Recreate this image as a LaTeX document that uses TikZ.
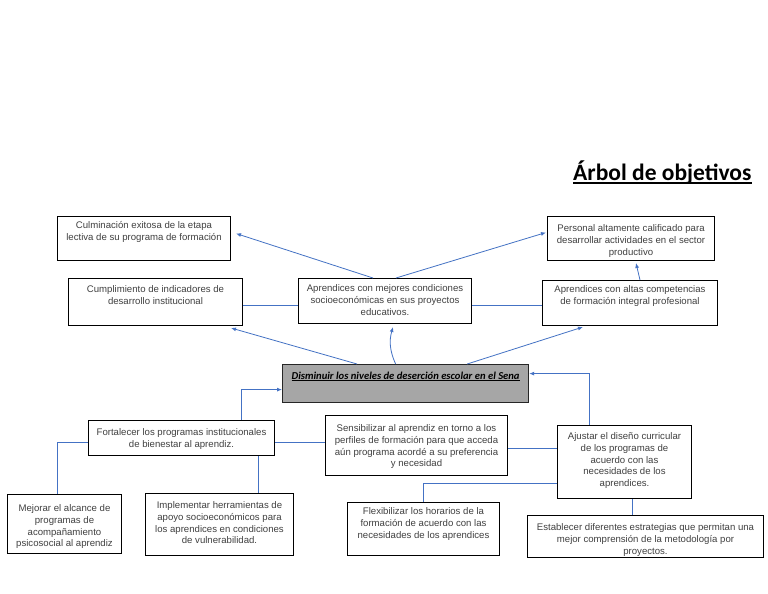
\documentclass[tikz,border=0pt]{standalone}
\usepackage{fontspec}
\setmainfont{Liberation Sans}
\newfontfamily\calibrifont{Carlito}
\usetikzlibrary{arrows.meta}
\definecolor{conn}{RGB}{68,114,196}
\definecolor{txtg}{RGB}{64,64,64}
\definecolor{cfill}{RGB}{166,166,166}
\newcommand\obx[7]{\node[obox,anchor=north west] (#1) at (#2,#3) {\parbox[c][#5pt][t]{#4pt}{\centering\vspace*{#6pt}\strut#7\par}};}
\begin{document}
\begin{tikzpicture}[x=1pt,y=-1pt,
  obox/.style={draw=black,line width=1pt,inner sep=0pt,text=txtg,font=\fontsize{9.6}{11.7}\selectfont},
  cbox/.style={draw=black!85,fill=cfill,line width=1.2pt,inner sep=0pt,text=black,font=\fontsize{10.6}{12}\selectfont},
  conline/.style={draw=conn,line width=0.8pt},
  conarrow/.style={conline,-{Latex[length=5pt,width=4pt]}},
  titlestyle/.style={anchor=base west,inner sep=0pt,font=\calibrifont\bfseries\fontsize{23.5}{28}\selectfont}]
\useasboundingbox[fill=white] (0,0) rectangle (768,594);

% title
\node[titlestyle] (title) at (573,180) {Árbol de objetivos};
\draw[line width=1.5pt] ([yshift=-3pt]title.base west) -- ([yshift=-3pt]title.base east);

% upper boxes
\obx{cul}{57}{216}{173}{44}{4}{Culminación exitosa de la etapa\\lectiva de su programa de formación}
\obx{cum}{68}{278}{174}{47}{6}{Cumplimiento de indicadores de\\desarrollo institucional}
\obx{mej}{298}{278}{173}{45}{5}{Aprendices con mejores condiciones\\socioeconómicas en sus proyectos\\educativos.}
\obx{per}{547}{216}{167}{44}{7}{Personal altamente calificado para\\desarrollar actividades en el sector\\productivo}
\obx{alt}{542}{280}{175}{45}{4}{Aprendices con altas competencias\\de formación integral profesional}

% central box
\node[cbox,anchor=north west] (cen) at (282,364) {\parbox[c][38pt][t]{246pt}{\centering\vspace*{6pt}\strut\calibrifont\bfseries\itshape\underline{Disminuir los niveles de deserción escolar en el Sena}\par}};

% lower boxes
\obx{fort}{88}{420}{186}{35}{7}{Fortalecer los programas institucionales\\de bienestar al aprendiz.}
\obx{mejo}{7}{494}{114}{59}{9}{Mejorar el alcance de\\programas de\\acompañamiento\\psicosocial al aprendiz}
\obx{impl}{145}{493}{148}{62}{7}{Implementar herramientas de\\apoyo socioeconómicos para\\los aprendices en condiciones\\de vulnerabilidad.}
\obx{sens}{325}{415}{182}{60}{8}{Sensibilizar al aprendiz en torno a los\\perfiles de formación para que acceda\\aún programa acordé a su preferencia\\y necesidad}
\obx{ajus}{557}{425}{134}{73}{6}{Ajustar el diseño curricular\\de los programas de\\acuerdo con las\\necesidades de los\\aprendices.}
\obx{flex}{347}{502}{152}{53}{4}{Flexibilizar los horarios de la\\formación de acuerdo con las\\necesidades de los aprendices}
\obx{est}{527}{515}{236}{42}{7}{Establecer diferentes estrategias que permitan una\\mejor comprensión de la metodología por\\proyectos.}

% upper connectors
\draw[conarrow] ([xshift=75pt]cen.north west) -- ([xshift=-12pt,yshift=-2pt]cum.south east);
\draw[conarrow] ([xshift=75pt]mej.north west) -- ([xshift=5pt,yshift=5pt]cul.east);
\draw[conarrow] ([xshift=-10pt]cen.north) to[bend left=20] ([xshift=8pt,yshift=-3pt]mej.south);
\draw[conarrow] ([xshift=-62pt]cen.north east) -- ([xshift=41pt,yshift=-1pt]alt.south west);
\draw[conarrow] ([xshift=98pt]mej.north west) -- ([xshift=-1pt,yshift=6pt]per.west);
\draw[conarrow] ([xshift=10pt]alt.north) -- ([xshift=5pt,yshift=-2pt]per.south);
\draw[conline] ([yshift=-3pt]cum.east) -- ([yshift=-3pt]cum.east -| mej.west);
\draw[conline] ([yshift=-4pt]mej.east) -- ([yshift=-4pt]mej.east -| alt.west);

% lower connectors
\draw[conarrow] ([xshift=60pt]fort.north) |- ([yshift=-6pt]cen.west);
\draw[conline] ([yshift=-4.5pt]fort.west) -| ([xshift=-7pt]mejo.north);
\draw[conline] ([xshift=77pt]fort.south) -- ([xshift=77pt]fort.south |- impl.north);
\draw[conline] ([yshift=-4.5pt]fort.east) -- ([yshift=-4.5pt]fort.east -| sens.west);
\draw[conline] ([yshift=-3pt]sens.east) -- ([yshift=-3pt]sens.east -| ajus.west);
\draw[conarrow] ([xshift=-35pt]ajus.north) |- ([yshift=10pt]cen.east);
\draw[conline] ([yshift=-21.5pt]ajus.west) -| (flex.north);
\draw[conline] ([xshift=8pt]ajus.south) -- ([xshift=8pt]ajus.south |- est.north);
\end{tikzpicture}
\end{document}
